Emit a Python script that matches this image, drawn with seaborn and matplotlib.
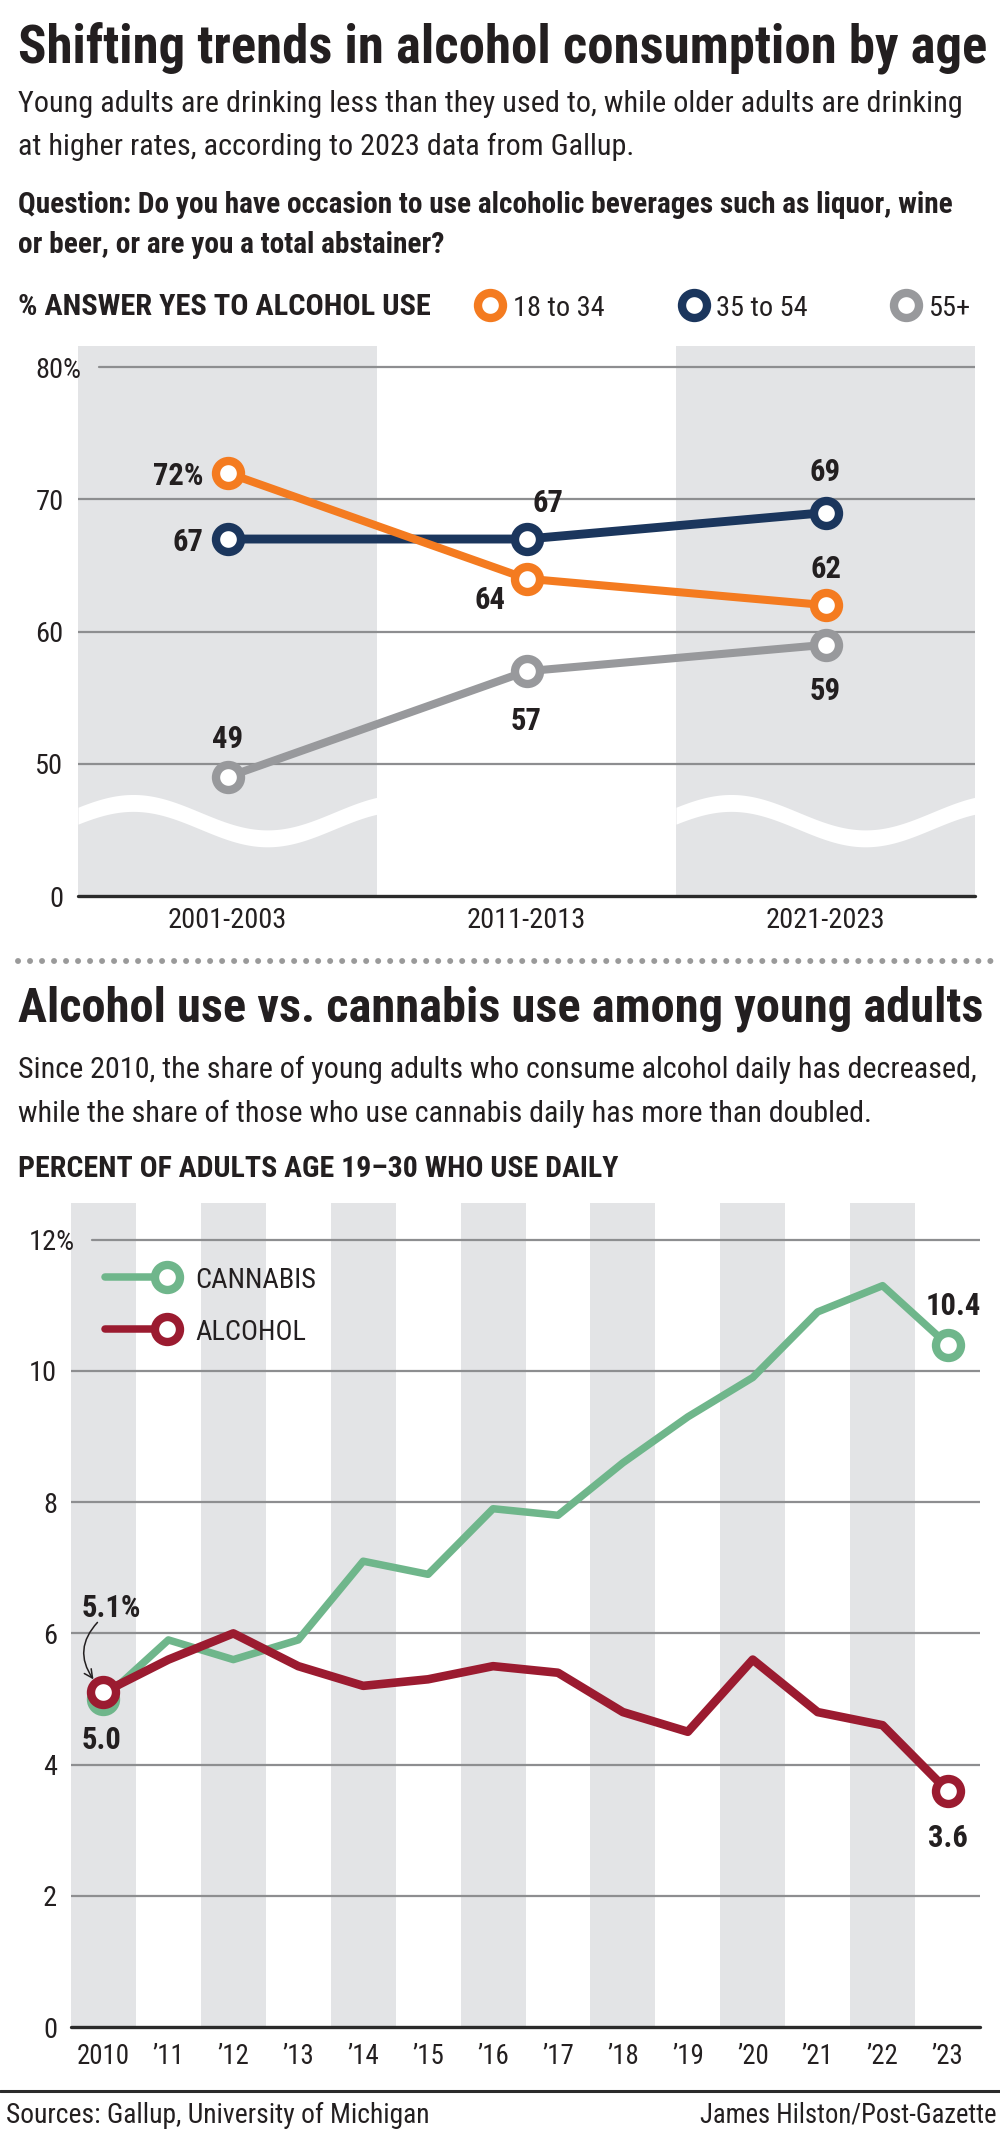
import numpy as np
import pandas as pd
import matplotlib
matplotlib.use('Agg')
import matplotlib.pyplot as plt
import seaborn as sns
from matplotlib import font_manager, transforms

W, H = 1000, 2132

# top chart data (Gallup)
periods = ['2001-2003', '2011-2013', '2021-2023']
age_groups = ['18 to 34', '35 to 54', '55+']
yes_18_34 = [72, 64, 62]
yes_35_54 = [67, 67, 69]
yes_55_up = [49, 57, 59]

# bottom chart data (Monitoring the Future)
years = [2010, 2011, 2012, 2013, 2014, 2015, 2016, 2017, 2018, 2019, 2020, 2021, 2022, 2023]
year_labels = ['2010', '’11', '’12', '’13', '’14', '’15', '’16', '’17', '’18', '’19',
               '’20', '’21', '’22', '’23']
cannabis = [5.0, 5.9, 5.6, 5.9, 7.1, 6.9, 7.9, 7.8, 8.6, 9.3, 9.9, 10.9, 11.3, 10.4]
alcohol = [5.1, 5.6, 6.0, 5.5, 5.2, 5.3, 5.5, 5.4, 4.8, 4.5, 5.6, 4.8, 4.6, 3.6]

ORANGE = '#f47b20'
NAVY = '#1b365d'
GREY = '#98999c'
GREEN = '#6fb68b'
CRIMSON = '#9b1b30'
SHADE = '#e3e4e6'
GRID = '#8d8e90'
INK = '#231f20'
AXIS = '#2b2b2b'

sns.set_theme(style='white')
names = {f.name for f in font_manager.fontManager.ttflist}
FONT = 'DejaVu Sans'
for cand in ['Roboto Condensed', 'Liberation Sans Narrow', 'Open Sans Condensed']:
    if cand in names:
        FONT = cand
        break
plt.rcParams['font.family'] = [FONT, 'DejaVu Sans']

fig = plt.figure(figsize=(W / 100, H / 100), dpi=100)
fig.patch.set_facecolor('white')
rend = fig.canvas.get_renderer()

# calibrate size so digits are ~14px wide like the original
probe = fig.text(0, 0, '0123456789', fontsize=22)
digit_scale = 140 / probe.get_window_extent(renderer=rend).width
probe.remove()
TS = 22 * digit_scale          # tick / legend size
LS = 22 * digit_scale * 1.08   # data label size

ov = fig.add_axes([0, 0, 1, 1], zorder=10)
ov.set_xlim(0, W)
ov.set_ylim(H, 0)
ov.axis('off')
ov.patch.set_alpha(0)


def fit_text(x, y, s, width=None, size=20, weight='normal', ha='left', va='baseline'):
    t = ov.text(x, y, s, fontsize=size, fontweight=weight, ha=ha, va=va, color=INK)
    if width:
        w = t.get_window_extent(renderer=rend).width
        t.set_fontsize(size * width / w)
    return t


# ---------- headers ----------
fit_text(18, 62, 'Shifting trends in alcohol consumption by age', 969, 30, 'bold')
s1 = fit_text(18, 112, 'Young adults are drinking less than they used to, while older adults are drinking', 940)
fit_text(18, 155, 'at higher rates, according to 2023 data from Gallup.', size=s1.get_fontsize())
q1 = fit_text(18, 213, 'Question: Do you have occasion to use alcoholic beverages such as liquor, wine', 934,
              weight='bold')
fit_text(18, 253, 'or beer, or are you a total abstainer?', size=q1.get_fontsize(), weight='bold')
fit_text(18, 315, '% ANSWER YES TO ALCOHOL USE', 414, weight='bold')

top_colors = [ORANGE, NAVY, GREY]
for cx, tx, lab, c in zip([490, 694, 906], [513, 716, 929], age_groups, top_colors):
    ov.plot([cx], [305], marker='o', ms=18, mew=6, mfc='white', mec=c)
    ov.text(tx, 305, lab, fontsize=TS, ha='left', va='center_baseline', color=INK)

# ---------- top chart ----------
ax1 = fig.add_axes([78 / W, 1 - 896 / H, 897 / W, 550 / H])
ax1.set_xlim(-0.5, 2.5)
ax1.set_ylim(40, 81.6)
for i in [0, 2]:
    ax1.axvspan(i - 0.5, i + 0.5, color=SHADE, lw=0, zorder=0)
    u = np.linspace(0, 1, 200)
    yc = 45.7 + 1.34 * np.cos(2 * np.pi * (u - 0.184) / 0.898)
    ax1.fill_between(i - 0.5 + u, yc - 0.64, yc + 0.64, color='white', lw=0, zorder=0.5)
for g in [50, 60, 70]:
    ax1.axhline(g, color=GRID, lw=1.6, zorder=1)
ax1.axhline(80, xmin=21 / 897, color=GRID, lw=1.6, zorder=1)
ax1.axhline(40, color=AXIS, lw=2.4, zorder=1, clip_on=False)

pos = list(range(len(periods)))
top_series = [(yes_55_up, GREY, 5.8), (yes_35_54, NAVY, 6.4), (yes_18_34, ORANGE, 5.8)]
for vals, c, lw in top_series:
    sns.lineplot(x=pos, y=vals, color=c, lw=lw, marker='o', ms=18, mew=6,
                 mfc='white', mec=c, ax=ax1, zorder=3)

top_labels = {
    0: (yes_18_34, [(-24, 0, 'right'), (-37, -18, 'center'), (0, 39, 'center')]),
    1: (yes_35_54, [(-24, 0, 'right'), (21, 39, 'center'), (0, 44, 'center')]),
    2: (yes_55_up, [(0, 41, 'center'), (0, -47, 'center'), (0, -43, 'center')]),
}
for k, (vals, offs) in top_labels.items():
    for j, (v, (dx, dy, ha)) in enumerate(zip(vals, offs)):
        s = f'{v}%' if (k == 0 and j == 0) else f'{v}'
        ax1.annotate(s, (pos[j], v), xytext=(dx, dy), textcoords='offset pixels',
                     ha=ha, va='center_baseline', fontsize=LS, fontweight='bold',
                     color=INK, zorder=4)

ax1.set_xticks(pos)
ax1.set_xticklabels(periods)
ax1.set_yticks([40, 50, 60, 70, 80])
ax1.set_yticklabels(['0', '50', '60', '70', '80'])
ax1.tick_params(axis='x', length=0, pad=8, labelsize=TS, labelcolor=INK)
ax1.tick_params(axis='y', length=0, pad=10.5, labelsize=TS, labelcolor=INK)
ax1.set_xlabel('')
ax1.set_ylabel('')
for sp in ax1.spines.values():
    sp.set_visible(False)

# separator
ov.plot([18, 997], [961, 961], color='#9a9a9a', lw=4.3, linestyle=(0, (0.01, 2.0)),
        dash_capstyle='round')

fit_text(18, 1022, 'Alcohol use vs. cannabis use among young adults', 966, 30, 'bold')
s2 = fit_text(18, 1078, 'Since 2010, the share of young adults who consume alcohol daily has decreased,', 959)
fit_text(18, 1122, 'while the share of those who use cannabis daily has more than doubled.',
         size=s2.get_fontsize())
fit_text(18, 1177, 'PERCENT OF ADULTS AGE 19–30 WHO USE DAILY', 601, weight='bold')

# ---------- bottom chart ----------
ax2 = fig.add_axes([71 / W, 1 - 2027 / H, 909 / W, (2027 - 1203) / H])
ax2.set_xlim(years[0] - 0.5, years[-1] + 0.5)
ax2.set_ylim(0, 12.56)
for yr in years[::2]:
    ax2.axvspan(yr - 0.5, yr + 0.5, color=SHADE, lw=0, zorder=0)
for g in [2, 4, 6, 8, 10]:
    ax2.axhline(g, color=GRID, lw=1.6, zorder=1)
ax2.axhline(12, xmin=21 / 909, color=GRID, lw=1.6, zorder=1)
ax2.axhline(0, color=AXIS, lw=2.4, zorder=1, clip_on=False)

df = pd.DataFrame({'year': years * 2,
                   'pct': cannabis + alcohol,
                   'kind': ['CANNABIS'] * len(years) + ['ALCOHOL'] * len(years)})
for kind, c, lw in [('CANNABIS', GREEN, 5.4), ('ALCOHOL', CRIMSON, 6.2)]:
    sub = df[df['kind'] == kind]
    sns.lineplot(data=sub, x='year', y='pct', color=c, lw=lw, marker='o', ms=18, mew=6,
                 mfc='white', mec=c, markevery=[0, len(sub) - 1], ax=ax2, zorder=3)

bottom_labels = [(f'{alcohol[0]}%', years[0], alcohol[0], 8, 87),
                 (f'{cannabis[0]:.1f}', years[0], cannabis[0], -2, -38),
                 (f'{cannabis[-1]}', years[-1], cannabis[-1], 6, 42),
                 (f'{alcohol[-1]}', years[-1], alcohol[-1], 0, -44)]
for s, x, y, dx, dy in bottom_labels:
    ax2.annotate(s, (x, y), xytext=(dx, dy), textcoords='offset pixels', ha='center',
                 va='center_baseline', fontsize=LS, fontweight='bold', color=INK, zorder=4)

# little curved pointer from 5.1% to the alcohol marker
tip = transforms.offset_copy(ax2.transData, fig=fig, x=-10, y=13, units='dots')
tail = transforms.offset_copy(ax2.transData, fig=fig, x=-6, y=70, units='dots')
ax2.annotate('', xy=(years[0], alcohol[0]), xycoords=tip,
             xytext=(years[0], alcohol[0]), textcoords=tail,
             arrowprops=dict(arrowstyle='->,head_length=0.5,head_width=0.25', color=INK, lw=1.1,
                             connectionstyle='arc3,rad=0.4', shrinkA=0, shrinkB=0), zorder=5)

ax2.set_xticks(years)
ax2.set_xticklabels(year_labels)
ax2.set_yticks([0, 2, 4, 6, 8, 10, 12])
ax2.set_yticklabels(['0', '2', '4', '6', '8', '10', '12'])
ax2.tick_params(axis='x', length=0, pad=11.5, labelsize=TS * 0.95, labelcolor=INK)
ax2.tick_params(axis='y', length=0, pad=10, labelsize=TS, labelcolor=INK)
ax2.set_xlabel('')
ax2.set_ylabel('')
for sp in ax2.spines.values():
    sp.set_visible(False)

# legend for bottom chart
for yy, lab, c in [(1277, 'CANNABIS', GREEN), (1329, 'ALCOHOL', CRIMSON)]:
    ov.plot([105, 160], [yy, yy], color=c, lw=5.4, solid_capstyle='round')
    ov.plot([167], [yy], marker='o', ms=18, mew=6, mfc='white', mec=c)
    ov.text(195, yy, lab, fontsize=TS, ha='left', va='center_baseline', color=INK)

# footer
ov.plot([0, W], [2091, 2091], color=AXIS, lw=2.2)
fit_text(6, 2123, 'Sources: Gallup, University of Michigan', 423)
fit_text(997, 2123, 'James Hilston/Post-Gazette', 297, ha='right')

# top y labels carry a hanging "%": swap the tick label for a left-anchored text
fig.canvas.draw()
for ax in (ax1, ax2):
    lab = ax.get_yticklabels()[-1]
    bb = lab.get_window_extent(renderer=fig.canvas.get_renderer())
    x0 = bb.x0
    y0 = H - (bb.y0 + bb.y1) / 2
    ov.text(x0, y0, lab.get_text() + '%', fontsize=TS, ha='left', va='center', color=INK)
    labels = [t.get_text() for t in ax.get_yticklabels()]
    labels[-1] = ''
    ax.set_yticklabels(labels)

fig.savefig('out.png', dpi=100, facecolor='white')
